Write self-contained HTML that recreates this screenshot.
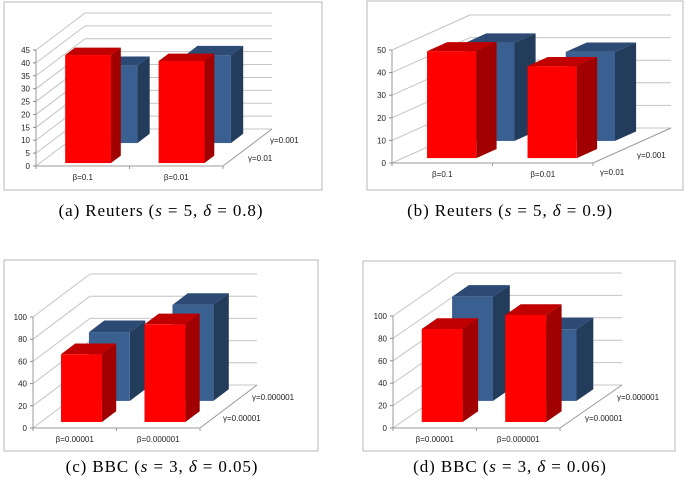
<!DOCTYPE html>
<html><head><meta charset="utf-8">
<style>
html,body{margin:0;padding:0;background:#fff;}
svg{display:block;}
.tk{font-family:"Liberation Sans",sans-serif;font-size:8px;fill:#222;}
.cap{font-family:"Liberation Serif",serif;font-size:17px;letter-spacing:0.9px;fill:#000;}
</style></head>
<body>
<svg id="fig" width="685" height="477" viewBox="0 0 685 477" xmlns="http://www.w3.org/2000/svg">
<text class="cap" x="161" y="216" text-anchor="middle">(a) Reuters (<tspan font-style="italic">s</tspan> = 5, <tspan font-style="italic">δ</tspan> = 0.8)</text>
<text class="cap" x="510" y="216" text-anchor="middle">(b) Reuters (<tspan font-style="italic">s</tspan> = 5, <tspan font-style="italic">δ</tspan> = 0.9)</text>
<text class="cap" x="162" y="472" text-anchor="middle">(c) BBC (<tspan font-style="italic">s</tspan> = 3, <tspan font-style="italic">δ</tspan> = 0.05)</text>
<text class="cap" x="510" y="472" text-anchor="middle">(d) BBC (<tspan font-style="italic">s</tspan> = 3, <tspan font-style="italic">δ</tspan> = 0.06)</text>
</svg>
<script>
// ---- data ----
const catsA = ["β=0.1", "β=0.01"];
const seriesNamesA = ["γ=0.01", "γ=0.001"];
const frontA = [41.9, 39.6];
const backA = [30, 34.1];
const ticksA = [0, 5, 10, 15, 20, 25, 30, 35, 40, 45];

const catsB = ["β=0.1", "β=0.01"];
const seriesNamesB = ["γ=0.01", "γ=0.001"];
const frontB = [47.3, 40.7];
const backB = [43.4, 39.4];
const ticksB = [0, 10, 20, 30, 40, 50];

const catsC = ["β=0.00001", "β=0.000001"];
const seriesNamesC = ["γ=0.00001", "γ=0.000001"];
const frontC = [61, 88];
const backC = [62, 86.5];
const ticksC = [0, 20, 40, 60, 80, 100];

const catsD = ["β=0.00001", "β=0.000001"];
const seriesNamesD = ["γ=0.00001", "γ=0.000001"];
const frontD = [83, 95.5];
const backD = [93, 64];
const ticksD = [0, 20, 40, 60, 80, 100];

const NS = "http://www.w3.org/2000/svg";
const svg = document.getElementById('fig');
function mk(tag, attrs, parent) {
  const e = document.createElementNS(NS, tag);
  for (const k in attrs) e.setAttribute(k, attrs[k]);
  (parent || svg).appendChild(e);
  return e;
}
function pts(a) { return a.map(p => p[0].toFixed(1) + ',' + p[1].toFixed(1)).join(' '); }

function panel(id, g, cats, names, front, back, ticks) {
  const grp = mk('g', {});
  
  
  const fr = mk('rect', {x: g.fx, y: g.fy, width: g.fw, height: g.fh, fill: '#fff', stroke: '#b8b8b8', 'stroke-width': 1}, grp);
  
  
  const maxT = ticks[ticks.length - 1];
  const yv = v => g.y0 - v * g.H / maxT;
  const slot = g.W / cats.length;
  const gc = '#c4c4c4';
  ticks.forEach(t => {
    const y = yv(t);
    const l1 = mk('line', {x1: g.x0, y1: y, x2: g.x0 + g.dx, y2: y + g.dy, stroke: gc, 'stroke-width': 1}, grp);
    
    
    const l2 = mk('line', {x1: g.x0 + g.dx, y1: y + g.dy, x2: g.x0 + g.W + g.dx, y2: y + g.dy, stroke: gc, 'stroke-width': 1}, grp);
    
    
    const tl = mk('line', {x1: g.x0 - 3, y1: y, x2: g.x0, y2: y, stroke: '#888'}, grp);
    
    
    const tx = mk('text', {x: g.x0 - 6, y: y + 3, 'text-anchor': 'end', class: 'tk'}, grp);
    tx.textContent = t;
    
    
  });
  const ax = mk('line', {x1: g.x0, y1: g.y0, x2: g.x0, y2: yv(maxT), stroke: '#999'}, grp);
  
  
  const fl = mk('line', {x1: g.x0, y1: g.y0, x2: g.x0 + g.W, y2: g.y0, stroke: '#999'}, grp);
  
  
  const sl = mk('line', {x1: g.x0 + g.W, y1: g.y0, x2: g.x0 + g.W + g.dx, y2: g.y0 + g.dy, stroke: '#999'}, grp);
  
  
  for (let i = 0; i <= cats.length; i++) {
    const t = mk('line', {x1: g.x0 + slot * i, y1: g.y0, x2: g.x0 + slot * i, y2: g.y0 + 3, stroke: '#999'}, grp);
    
    
  }
  cats.forEach((c, i) => {
    const t = mk('text', {x: g.x0 + slot * (i + 0.5), y: g.y0 + 14, 'text-anchor': 'middle', class: 'tk'}, grp);
    t.textContent = c;
    
    
  });
  names.forEach((n, r) => {
    const t = mk('text', {x: g.lab[r][0], y: g.lab[r][1], class: 'tk'}, grp);
    t.textContent = n;
    
    
  });
  function bar(i, v, d0, d1, cols, nm) {
    const xa = g.x0 + slot * (i + g.f0), xb = g.x0 + slot * (i + g.f1);
    const ox0 = g.dx * d0, oy0 = g.dy * d0, ox1 = g.dx * d1, oy1 = g.dy * d1;
    const base = g.y0 + oy0, top = yv(v) + oy0;
    const bg = mk('g', {}, grp);
    
    
    mk('polygon', {points: pts([[xb + ox0, top], [xb + ox1, top - oy0 + oy1], [xb + ox1, base - oy0 + oy1], [xb + ox0, base]]), fill: cols[2]}, bg);
    mk('polygon', {points: pts([[xa + ox0, top], [xb + ox0, top], [xb + ox1, top - oy0 + oy1], [xa + ox1, top - oy0 + oy1]]), fill: cols[1]}, bg);
    mk('rect', {x: xa + ox0, y: top, width: xb - xa, height: base - top, fill: cols[0]}, bg);
  }
  const blue = ['#3a6092', '#2c4a73', '#233c5b'];
  const red = ['#ff0000', '#c00000', '#a00000'];
  back.forEach((v, i) => bar(i, v, g.b0, g.b1, blue, 'bar-back-' + i));
  front.forEach((v, i) => bar(i, v, g.r0, g.r1, red, 'bar-front-' + i));
}

panel('a', {fx: 4, fy: 2, fw: 318, fh: 188, x0: 36, y0: 166, W: 187, H: 116, dx: 49, dy: -37, f0: 0.27, f1: 0.76, r0: 0.08, r1: 0.28, b0: 0.62, b1: 0.87, lab: [[248, 161], [270, 143]]}, catsA, seriesNamesA, frontA, backA, ticksA);
panel('b', {fx: 367, fy: 1, fw: 316, fh: 189, x0: 392, y0: 163, W: 201, H: 113, dx: 78, dy: -35, f0: 0.24, f1: 0.73, r0: 0.14, r1: 0.40, b0: 0.63, b1: 0.9, lab: [[600, 175], [637, 158]]}, catsB, seriesNamesB, frontB, backB, ticksB);
panel('c', {fx: 4, fy: 260, fw: 314, fh: 191, x0: 33, y0: 428, W: 167, H: 111, dx: 57, dy: -43, f0: 0.24, f1: 0.73, r0: 0.14, r1: 0.39, b0: 0.63, b1: 0.9, lab: [[223, 421], [252, 400]]}, catsC, seriesNamesC, frontC, backC, ticksC);
panel('d', {fx: 363, fy: 261, fw: 312, fh: 190, x0: 393, y0: 428, W: 167, H: 112, dx: 62, dy: -43, f0: 0.24, f1: 0.73, r0: 0.14, r1: 0.39, b0: 0.63, b1: 0.9, lab: [[585, 421], [617, 400]]}, catsD, seriesNamesD, frontD, backD, ticksD);
</script>
</body></html>
